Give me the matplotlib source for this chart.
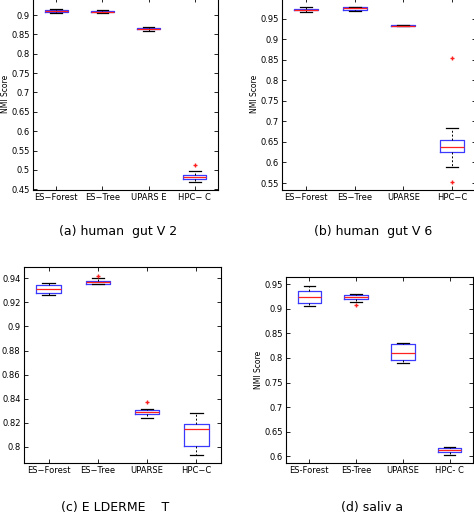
import matplotlib
matplotlib.use("Agg")
import matplotlib.pyplot as plt

W, H = 474, 512

methods = ["ES\u2212Forest", "ES\u2212Tree", "UPARSE", "HPC\u2212C"]
labels_a = ["ES\u2212Forest", "ES\u2212Tree", "UPARS E", "HPC\u2212 C"]
labels_d = ["ES-Forest", "ES-Tree", "UPARSE", "HPC- C"]

# (q1, median, q3, whisker low, whisker high, fliers)
gut_v2 = [(0.907, 0.910, 0.912, 0.905, 0.915, []),
          (0.907, 0.909, 0.911, 0.905, 0.913, []),
          (0.863, 0.865, 0.867, 0.860, 0.869, []),
          (0.476, 0.482, 0.487, 0.468, 0.496, [0.513])]
gut_v6 = [(0.970, 0.972, 0.974, 0.967, 0.977, []),
          (0.972, 0.975, 0.977, 0.969, 0.978, []),
          (0.932, 0.933, 0.934, 0.931, 0.935, []),
          (0.625, 0.637, 0.655, 0.589, 0.684, [0.855, 0.553])]
elderment = [(0.9275, 0.9315, 0.9345, 0.9265, 0.9365, []),
             (0.9355, 0.9370, 0.9380, 0.9350, 0.9400, [0.942]),
             (0.8270, 0.8290, 0.8305, 0.8240, 0.8310, [0.8375]),
             (0.8010, 0.8145, 0.8190, 0.7935, 0.8280, [])]
saliva = [(0.912, 0.924, 0.937, 0.905, 0.946, []),
          (0.920, 0.924, 0.928, 0.914, 0.930, [0.907]),
          (0.795, 0.810, 0.829, 0.789, 0.830, []),
          (0.609, 0.612, 0.616, 0.603, 0.619, [])]

panels = [
    # data, xticklabels, (left, top, right, bottom px), ylim, yticks, caption, caption xy
    (gut_v2, labels_a, (33, -2, 218, 190), (0.448, 0.944),
     [0.45, 0.5, 0.55, 0.6, 0.65, 0.7, 0.75, 0.8, 0.85, 0.9], "(a) human  gut V 2", (118, 231)),
    (gut_v6, methods, (282, -2, 476, 190), (0.533, 1.0),
     [0.55, 0.6, 0.65, 0.7, 0.75, 0.8, 0.85, 0.9, 0.95], "(b) human  gut V 6", (373, 231)),
    (elderment, methods, (24, 267, 221, 463), (0.7865, 0.9494),
     [0.8, 0.82, 0.84, 0.86, 0.88, 0.9, 0.92, 0.94], "(c) E LDERME    T", (115, 507)),
    (saliva, labels_d, (286, 277, 473, 463), (0.586, 0.965),
     [0.6, 0.65, 0.7, 0.75, 0.8, 0.85, 0.9, 0.95], "(d) saliv a", (372, 507)),
]

fig = plt.figure(figsize=(W / 100, H / 100), dpi=100)
fig.patch.set_facecolor("white")

for data, xl, (l, t, r, b), ylim, yt, cap, (cx, cy) in panels:
    ax = fig.add_axes([l / W, 1 - b / H, (r - l) / W, (b - t) / H])
    stats = [dict(q1=d[0], med=d[1], q3=d[2], whislo=d[3], whishi=d[4], fliers=d[5])
             for d in data]
    ax.bxp(stats, positions=[1, 2, 3, 4], widths=0.5,
           boxprops=dict(color="#3a3aff", linewidth=0.9),
           medianprops=dict(color="#ff2020", linewidth=0.9),
           whiskerprops=dict(color="black", linestyle=(0, (2, 2)), linewidth=0.7),
           capprops=dict(color="black", linewidth=0.9), capwidths=0.25,
           flierprops=dict(marker="+", markeredgecolor="#ff2020", markersize=3,
                           linestyle="none"))
    ax.set_xlim(0.5, 4.5)
    ax.set_ylim(*ylim)
    ax.set_yticks(yt)
    ax.set_yticklabels([f"{v:g}" for v in yt])
    ax.set_xticks([1, 2, 3, 4])
    ax.set_xticklabels(xl)
    ax.tick_params(direction="in", top=True, right=True, labelsize=6,
                   length=3, width=0.6, pad=2.5)
    for s in ax.spines.values():
        s.set_linewidth(0.8)
    ax.set_ylabel("NMI Score", fontsize=5.5, labelpad=1)
    fig.text(cx / W, 1 - cy / H, cap, ha="center", va="center", fontsize=9)

fig.savefig("out.png", dpi=100)
